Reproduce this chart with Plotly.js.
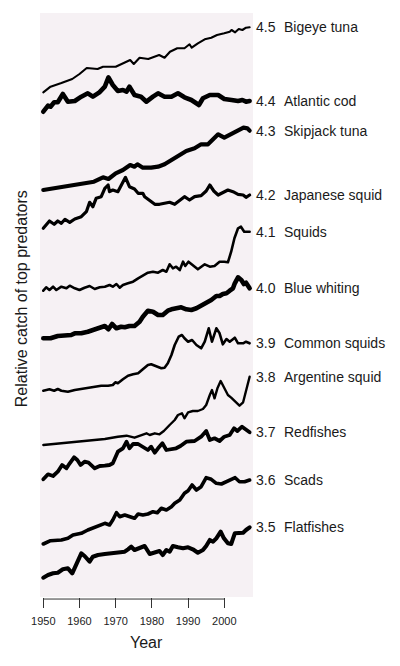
<!DOCTYPE html>
<html>
<head>
<meta charset="utf-8">
<script src="https://cdn.plot.ly/plotly-3.0.1.min.js"></script>
<style>
  html, body { margin: 0; padding: 0; background: #ffffff; }
  #chart { width: 400px; height: 666px; }
  .scatterlayer .js-line { stroke-linejoin: round !important; stroke-linecap: round !important; }
</style>
</head>
<body>
<div id="chart"></div>
<script>
// Species names and mean trophic levels (labels on the right)
const speciesNames = ["Bigeye tuna", "Atlantic cod", "Skipjack tuna", "Japanese squid", "Squids",
  "Blue whiting", "Common squids", "Argentine squid", "Redfishes", "Scads", "Flatfishes"];
const trophicLevels = ["4.5", "4.4", "4.3", "4.2", "4.1", "4.0", "3.9", "3.8", "3.7", "3.6", "3.5"];
const xTickYears = [1950, 1960, 1970, 1980, 1990, 2000];

// Relative catch (stacked, arbitrary units)
const bigeyeYears = [1950,1952,1955,1958,1960,1962,1965,1966.5,1970,1972,1974,1975,1976.6,1979,1980,1982,1983.5,1985,1987,1989,1990.4,1991,1992.7,1994.6,1996.4,1998,2000,2001.5,2002,2003,2004,2005,2006,2007];
const bigeyeCatch = [505.7,511.3,515,519,524,530,529,531.3,531.3,535,538,534,540.3,539,540.3,543,540.3,546.3,549.7,549.7,553.7,550.3,554.7,558.7,560.3,563,564.7,566.3,568,565.7,569,568,570.3,570.7];

const codYears = [1950,1951.3,1952,1953,1954,1955.4,1956.8,1958.7,1960.5,1962.3,1963.7,1965.5,1967,1968,1969.2,1970.6,1972,1973,1973.8,1975.2,1977,1978.5,1980.3,1981.7,1983.5,1985.4,1987.2,1989,1990.9,1993,1994.1,1996,1998.3,2000,2002,2003.8,2005,2006,2007];
const codCatch = [486.3,492.3,491.3,495.7,495.7,504,496.3,497,501.3,504.7,501.3,505.7,511.3,520.7,513,507,508,506.3,511.3,503,501.3,496.3,501.3,504.7,501.3,501.3,504.7,500.7,498,493,499.7,503,503,499,498,497,498,496.3,497];

const skipjackYears = [1950,1957,1964,1966.5,1968,1970,1972,1974,1975.2,1976,1977.5,1979.8,1981.7,1983.5,1985.4,1987.2,1989.5,1991.8,1993.6,1995.5,1996.9,1998.3,2000,2001.5,2002.9,2004.2,2005.3,2006.4,2007];
const skipjackCatch = [408,412,416.3,420.7,419,424.7,428,433,431.3,433.7,430.3,430.3,431.3,433.7,438,443,447,449.7,453.7,453.7,459,463.7,460.3,463,466.3,468,470.3,469.7,467.3];

const jSquidYears = [1950,1951.7,1953,1954,1955,1956,1957.3,1958.7,1960.5,1961.9,1962.8,1963.7,1964.6,1966,1967,1967.9,1968.3,1969.2,1970.6,1971.5,1972.7,1973.8,1975.2,1976.2,1977.5,1978,1979.4,1980.8,1982.1,1983.5,1984.9,1986.3,1987.7,1989,1990.4,1991.8,1993.6,1995,1996,1997.1,1998.3,1999.6,2001,2002.4,2003.8,2005.2,2006,2007];
const jSquidCatch = [369.7,377,373.7,377,374.7,378.7,375.7,379,381.3,386.3,395.7,391.3,399.7,401.3,409.7,413,406.3,408,406.3,413,420.7,411.3,409,404.7,404.7,401.3,397,393.7,393.7,394.7,395.7,393.7,398,401.3,398,401.3,402.3,407,413,407,403,405.7,408,406.3,403.7,403,400.7,403];

const squidsYears = [1950,1950.8,1951.7,1952.7,1953.6,1955,1956.4,1957.3,1958.7,1960,1961.4,1962.8,1964.2,1965.6,1967,1968.3,1969.2,1970.2,1971.1,1972,1973.4,1974.8,1976.2,1977.5,1978.9,1980.3,1981.7,1983,1984,1984.9,1985.8,1986.7,1987.7,1988.6,1989.2,1990.1,1991.3,1992.7,1994.6,1996,1997.3,1998.7,2000,2001,2001.9,2002.8,2003.8,2004.6,2005.5,2007];
const squidsCatch = [307.3,310.7,308,311.3,308,311.3,309.7,312.3,309.7,308,310.3,312,309,310.7,311.3,313,311.3,314,310.3,313,314.7,316.3,319.7,322,325.3,326.3,325.3,328,326.3,333.7,329.7,331.3,328,336.3,332,336.3,333,328.7,333.7,331.3,332,336.3,336.3,335.7,346.3,359.7,369.7,371.3,366.3,366.3];

const whitingYears = [1950,1952,1954,1955.9,1957.7,1958.7,1960.5,1962.3,1963.7,1965.6,1967,1968,1969,1970.2,1971.5,1972.5,1973.8,1975.2,1976.6,1977.5,1978.9,1980.3,1981.7,1983,1984.4,1985.4,1986.7,1988.1,1989.5,1990.9,1992.3,1993.6,1995,1996.4,1997.8,1998.7,1999.6,2000.6,2001.5,2002.4,2002.9,2003.8,2004.7,2005.4,2006,2007];
const whitingCatch = [259.7,259.7,262,263,263,264.7,264.7,266.3,268,270.7,272,268.7,274,269.7,271.3,270.7,272,272,276.3,281.3,287.3,286.3,283,283,287.3,288.7,289.7,290.7,288.7,288,289.7,292,294.7,298,302,302,304,304.7,307.3,309.7,314.7,320.7,318,314,315.3,309.7];

const cSquidYears = [1950,1951.7,1953,1954,1955,1956.8,1958.7,1960.5,1962.3,1964.2,1966,1967.9,1969.2,1969.9,1970.6,1972,1973.4,1974.8,1976.2,1977.5,1978.9,1979.8,1981.2,1982.6,1983.5,1984.4,1985.4,1986.3,1987.4,1988.3,1989,1990,1991.1,1992.3,1993.6,1994.6,1995.7,1996.6,1997.8,1998.7,1999.6,2000.6,2001.5,2002.9,2003.8,2005.2,2006,2007];
const cSquidCatch = [207.3,208.7,207.3,209,207.3,206.3,208,209,209.7,211.3,212.3,212.3,213,215.7,214.7,218.7,222.3,223.7,224.7,228.7,233,233.7,231.3,229.7,230.3,234.7,243,253,261.3,263,259.7,256.3,258,253,249.7,256.3,269.7,256.3,269.7,264.7,253.7,259,256.3,260.3,254.7,254.7,256.3,254.7];

const aSquidYears = [1950,1957.7,1962.3,1967,1970.6,1973,1975.2,1977,1978.5,1979.4,1980.8,1982.1,1983.3,1984.9,1986.3,1987.2,1988.3,1989,1990,1991.3,1992.7,1994.1,1995,1996,1996.6,1997.3,1998.1,1999,1999.9,2001,2001.9,2003.3,2004.2,2005.2,2006,2007];
const aSquidCatch = [153,155.7,157,159,161.3,162.3,160.3,163,164.7,163,164.7,163.7,167,173,178,183,184.7,179.7,185.7,187,187,189,193,203,208,199.7,209.7,217,211.3,203,200.3,195.7,192.3,195.7,208,221.3];

const redfishYears = [1950,1951.3,1952.7,1954,1955.2,1956.4,1957.3,1958.5,1959.4,1960.3,1961.4,1962.5,1964.2,1965.6,1967,1968.3,1969.2,1970.6,1972,1973,1973.8,1974.8,1976.2,1977.5,1978.9,1979.8,1980.8,1981.7,1982.9,1984,1985.4,1986.7,1987.9,1989.5,1991.8,1993.6,1995,1996,1997.3,1998.7,2000,2001.5,2002.7,2003.6,2004.9,2006,2007];
const redfishCatch = [118.7,123.7,122,126.3,133,129.7,134.7,140.7,138,133,136.3,135.3,129.7,132,132.3,133,134.7,146.3,149.7,156.3,149.7,154,154,151.3,148,151.3,145.3,149.7,154.7,148,148.7,149.7,152,156.3,157,161.3,167,158,159.7,157,161.3,163,169.7,167,171.3,168,165.7];

const scadsYears = [1950,1952,1955,1956.8,1958.2,1960.5,1962.3,1964.2,1965.6,1967,1968.3,1969.2,1970.2,1971.1,1972.5,1973.8,1975.2,1976.2,1977.5,1978.9,1980.3,1981.5,1982.6,1984,1985.4,1986.3,1987.7,1989,1990,1991.1,1992.3,1993.6,1995,1996.4,1997.8,1999.2,2000.6,2001.9,2003,2004.2,2005.6,2007];
const scadsCatch = [54,57.3,58,59.7,63,64.7,68,70.7,72,74.7,73,78,85.3,81.3,83,81.3,79.7,84,83,84,86.3,85.3,89.7,88,91.3,94.7,98,104.7,107.3,113,108,111.3,120.3,118.7,114.7,114,116.3,118,120.3,116.3,116.3,118];

const flatfishYears = [1950,1951.3,1952.7,1954,1955.4,1956.8,1958,1959.1,1960.5,1961.4,1962.8,1963.7,1965.1,1967,1968.8,1970.6,1972.5,1973.4,1974.3,1975.2,1976.6,1978,1979.4,1980.8,1982.1,1983,1984,1984.9,1985.8,1987.2,1988.6,1990,1991.3,1992.7,1994.1,1995,1996,1996.9,1997.8,1999,1999.9,2001,2001.9,2002.9,2003.8,2005.2,2006,2007];
const flatfishCatch = [20.3,23,24.7,25.3,28.7,29.7,24.7,34.7,44.7,42,36.3,41.3,43,44,44.7,45.3,46.3,48.7,51.3,48,49.7,52,44,45.3,47,43,48,46.3,52,50.7,49.7,50.7,48.7,45.3,48,52,58,56.3,59.7,66.3,59.7,54.7,54,64.7,65.3,65.3,68,70.7];

const seriesYears = [bigeyeYears, codYears, skipjackYears, jSquidYears, squidsYears, whitingYears, cSquidYears, aSquidYears, redfishYears, scadsYears, flatfishYears];
const seriesCatch = [bigeyeCatch, codCatch, skipjackCatch, jSquidCatch, squidsCatch, whitingCatch, cSquidCatch, aSquidCatch, redfishCatch, scadsCatch, flatfishCatch];

// Styles (line widths)
const lineWidths = [2.1, 4.6, 4.2, 3.2, 2.6, 4.6, 2.6, 2.4, 3.8, 3.6, 4.1];

const FONT = '"Liberation Sans", Arial, "DejaVu Sans", sans-serif';

const traces = seriesCatch.map((vals, i) => ({
  type: 'scatter',
  mode: 'lines',
  x: seriesYears[i],
  y: vals,
  line: { color: '#000000', width: lineWidths[i], shape: 'linear' },
  hoverinfo: 'skip',
  showlegend: false
}));

const annotations = [];
seriesCatch.forEach((vals, i) => {
  const last = vals[vals.length - 1];
  annotations.push({
    xref: 'paper', yref: 'y', x: 1, y: last,
    xanchor: 'left', yanchor: 'middle', xshift: 1,
    text: trophicLevels[i], showarrow: false,
    font: { family: FONT, size: 14, color: '#1a1a1a' }
  });
  annotations.push({
    xref: 'paper', yref: 'y', x: 1, y: last,
    xanchor: 'left', yanchor: 'middle', xshift: 29,
    text: speciesNames[i], showarrow: false,
    font: { family: FONT, size: 14, color: '#1a1a1a' }
  });
});

annotations.push({
  xref: 'paper', yref: 'paper', x: -0.089, y: 0.51,
  xanchor: 'center', yanchor: 'middle', textangle: -90,
  text: 'Relative catch of top predators', showarrow: false,
  font: { family: FONT, size: 16, color: '#1a1a1a' }
});
annotations.push({
  xref: 'paper', yref: 'paper', x: 0.501, y: -0.078,
  xanchor: 'center', yanchor: 'middle',
  text: 'Year', showarrow: false,
  font: { family: FONT, size: 16, color: '#1a1a1a' }
});

const layout = {
  width: 400, height: 666,
  margin: { l: 40, r: 147, t: 13, b: 69, pad: 0 },
  paper_bgcolor: '#ffffff',
  plot_bgcolor: '#f6f1f4',
  font: { family: FONT, color: '#1a1a1a' },
  xaxis: {
    range: [1949.09, 2007.93],
    tickvals: xTickYears,
    ticktext: xTickYears.map(String),
    ticks: 'outside', ticklen: 10, tickwidth: 1, tickcolor: '#333333',
    ticklabelstandoff: 4,
    tickfont: { family: FONT, size: 11, color: '#222222' },
    showgrid: false, zeroline: false, showline: false, fixedrange: true
  },
  yaxis: {
    range: [1, 585],
    showticklabels: false, ticks: '', showgrid: false, zeroline: false, showline: false, fixedrange: true
  },
  shapes: [{
    type: 'line', xref: 'x', yref: 'paper',
    x0: xTickYears[0], x1: xTickYears[xTickYears.length - 1], y0: -0.0035, y1: -0.0035,
    line: { color: '#333333', width: 1 }
  }],
  annotations: annotations
};

Plotly.newPlot('chart', traces, layout, { staticPlot: true, displayModeBar: false });
</script>
</body>
</html>
